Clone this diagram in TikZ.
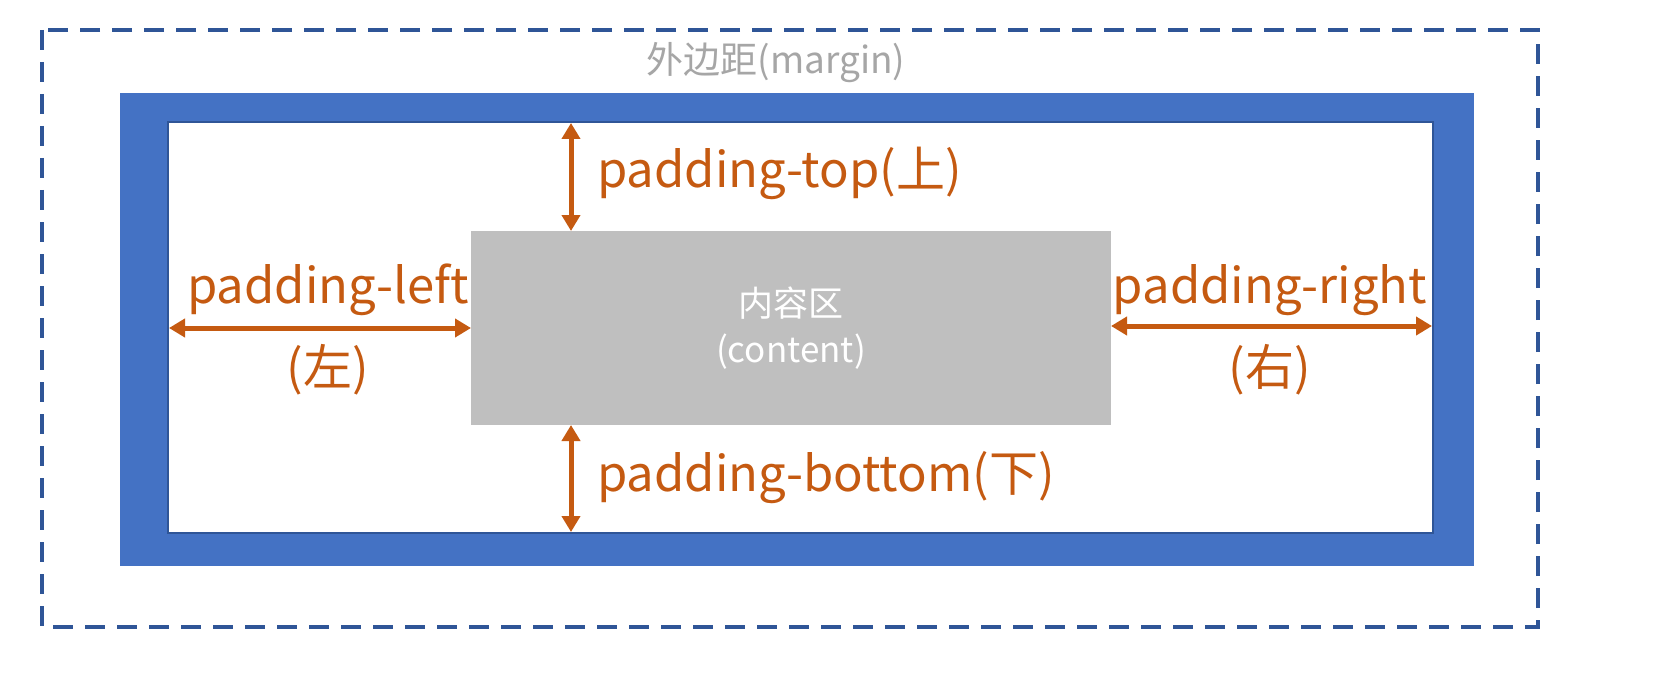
\documentclass[tikz,border=0pt]{standalone}
\usepackage{fontspec}
\setmainfont{Noto Sans CJK SC}
\definecolor{dblue}{HTML}{2F5597}
\definecolor{mblue}{HTML}{4472C4}
\definecolor{org}{HTML}{C55A11}
\definecolor{gr}{HTML}{BFBFBF}
\usetikzlibrary{arrows.meta}
\begin{document}
\begin{tikzpicture}[x=1pt,y=-1pt,
  arr/.style={org,line width=5pt,{Triangle[length=16pt,width=18pt]}-{Triangle[length=16pt,width=18pt]}},
  lab/.style={org,font=\fontsize{49}{56}\selectfont,inner sep=0pt}]
\useasboundingbox (0,0) rectangle (1661,695);
\draw[dblue,line width=4pt,dash pattern=on 20pt off 12pt] (42,30) rectangle (1538,627);
\fill[mblue] (120,93) rectangle (1474,566);
\draw[fill=white,draw=dblue,line width=1.5pt] (168,122) rectangle (1433,533);
\node[text=gray!70,font=\fontsize{37}{42}\selectfont] (m) at (776,63) {外边距(margin)};
\node[fill=gr,minimum width=640pt,minimum height=194pt,anchor=north west,inner sep=0pt] (c) at (471,231) {};
\node[white,font=\fontsize{35}{46}\selectfont,align=center] (ct) at (791,328) {内容区\\(content)};
\coordinate (t1) at (571,123); \coordinate (t2) at (571,231);
\coordinate (b1) at (571,425); \coordinate (b2) at (571,532);
\coordinate (l1) at (169,328); \coordinate (l2) at (471,328);
\coordinate (r1) at (1111,326); \coordinate (r2) at (1432,326);
\draw[arr] (t1) -- (t2);
\draw[arr] (b1) -- (b2);
\draw[arr] (l1) -- (l2);
\draw[arr] (r1) -- (r2);
\node[lab,anchor=west] (pt) at (597,173) {padding-top(上)};
\node[lab,anchor=west] (pb) at (597,478) {padding-bottom(下)};
\node[lab] (pl) at (328,290) {padding-left};
\node[lab] (pl2) at (328,370) {(左)};
\node[lab] (pr) at (1270,290) {padding-right};
\node[lab] (pr2) at (1270,370) {(右)};
\end{tikzpicture}
\end{document}
